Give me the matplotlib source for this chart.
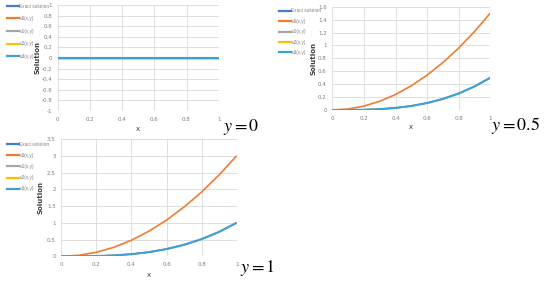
import numpy as np
import matplotlib
matplotlib.use("Agg")
import matplotlib.pyplot as plt
from matplotlib.ticker import FormatStrFormatter

plt.rcParams['mathtext.fontset'] = 'stix'
plt.rcParams['font.family'] = 'DejaVu Sans'
plt.rcParams['axes.unicode_minus'] = False

# data
x = [0, 0.1, 0.2, 0.3, 0.4, 0.5, 0.6, 0.7, 0.8, 0.9, 1.0]

# y = 0 : every series lies on zero
exact_y0 = [0, 0, 0, 0, 0, 0, 0, 0, 0, 0, 0]
u0_y0 = [0, 0, 0, 0, 0, 0, 0, 0, 0, 0, 0]

# y = 0.5
exact_y05 = [0, 0.0005, 0.004, 0.0135, 0.032, 0.0625, 0.108, 0.1715, 0.256, 0.3645, 0.5]
u0_y05 = [0, 0.015, 0.06, 0.135, 0.24, 0.375, 0.54, 0.735, 0.96, 1.215, 1.5]

# y = 1
exact_y1 = [0, 0.001, 0.008, 0.027, 0.064, 0.125, 0.216, 0.343, 0.512, 0.729, 1.0]
u0_y1 = [0, 0.03, 0.12, 0.27, 0.48, 0.75, 1.08, 1.47, 1.92, 2.43, 3.0]

labels = ["Exact solution", "u0(x,y)", "u1(x,y)", "u2(x,y)", "u3(x,y)"]
colors = ["#3f7fcb", "#ed7d31", "#a5a5a5", "#ffc000", "#3f9fd8"]

W, H = 550, 286
fig = plt.figure(figsize=(W / 100, H / 100), dpi=100, facecolor="white")


def px_axes(left, right, top, bottom):
    return fig.add_axes([left / W, 1 - bottom / H, (right - left) / W, (bottom - top) / H])


def draw_panel(ax, exact, u0, ylim, ystep, leg_xy, leg_space, ylab_x, xlab_y, tag, tag_xy):
    # u1, u2, u3 coincide with the exact solution; u3 is drawn on top
    series = [exact, u0, exact, exact, exact]
    lws = [1.0, 1.2, 1.0, 1.0, 1.5]
    order = [0, 2, 3, 1, 4]
    for i in order:
        ax.plot(x, series[i], color=colors[i], lw=lws[i], label=labels[i],
                solid_capstyle="butt", zorder=3 + order.index(i))
    ax.set_xlim(0, 1)
    ax.set_ylim(*ylim)
    ax.set_xticks(np.arange(0, 1.01, 0.2))
    ax.set_yticks(np.arange(ylim[0], ylim[1] + 1e-6, ystep))
    ax.xaxis.set_major_formatter(FormatStrFormatter('%g'))
    ax.yaxis.set_major_formatter(lambda v, p: '%g' % round(v, 2) if abs(v) > 1e-9 else '0')
    ax.grid(True, color="#d9d9d9", lw=0.6, zorder=0)
    for s in ax.spines.values():
        s.set_visible(False)
    ax.tick_params(length=0, labelsize=4, labelcolor="#7f7f7f", pad=4)
    ax.set_ylabel("Solution", fontsize=5, color="#404040", fontweight="bold")
    ax.set_xlabel("x", fontsize=5, color="#404040")
    pos = ax.get_position()
    ax.yaxis.set_label_coords((ylab_x / W - pos.x0) / pos.width, 0.5)
    ax.xaxis.set_label_coords(0.5, ((1 - xlab_y / H) - pos.y0) / pos.height)
    handles = [plt.Line2D([], [], color=colors[i], lw=1.6) for i in range(5)]
    ax.legend(handles, labels, loc="upper left",
              bbox_to_anchor=(leg_xy[0] / W, 1 - leg_xy[1] / H), bbox_transform=fig.transFigure,
              frameon=False, labelcolor="#7f7f7f", handlelength=2.5,
              prop={'family': 'Liberation Sans', 'size': 3.4},
              handletextpad=0.1, labelspacing=leg_space, borderpad=0, borderaxespad=0)
    fig.text(tag_xy[0] / W, 1 - tag_xy[1] / H, tag, fontsize=13, ha="center", va="center")


ax1 = px_axes(57.7, 218.7, 5, 111)
draw_panel(ax1, exact_y0, u0_y0, (-1, 1), 0.2, (7, 3.5), 1.6, 40, 126,
           r"$y=0$", (241, 127))

ax2 = px_axes(332.3, 490.3, 6.7, 110)
draw_panel(ax2, exact_y05, u0_y05, (0, 1.6), 0.2, (279, 8.5), 1.13, 316, 124,
           r"$y=0.5$", (516, 125))

ax3 = px_axes(61.3, 236.7, 139, 256.3)
draw_panel(ax3, exact_y1, u0_y1, (0, 3.5), 0.5, (7, 141.5), 1.32, 43.5, 272,
           r"$y=1$", (258, 268))

fig.savefig("out.png", dpi=100, facecolor="white")
